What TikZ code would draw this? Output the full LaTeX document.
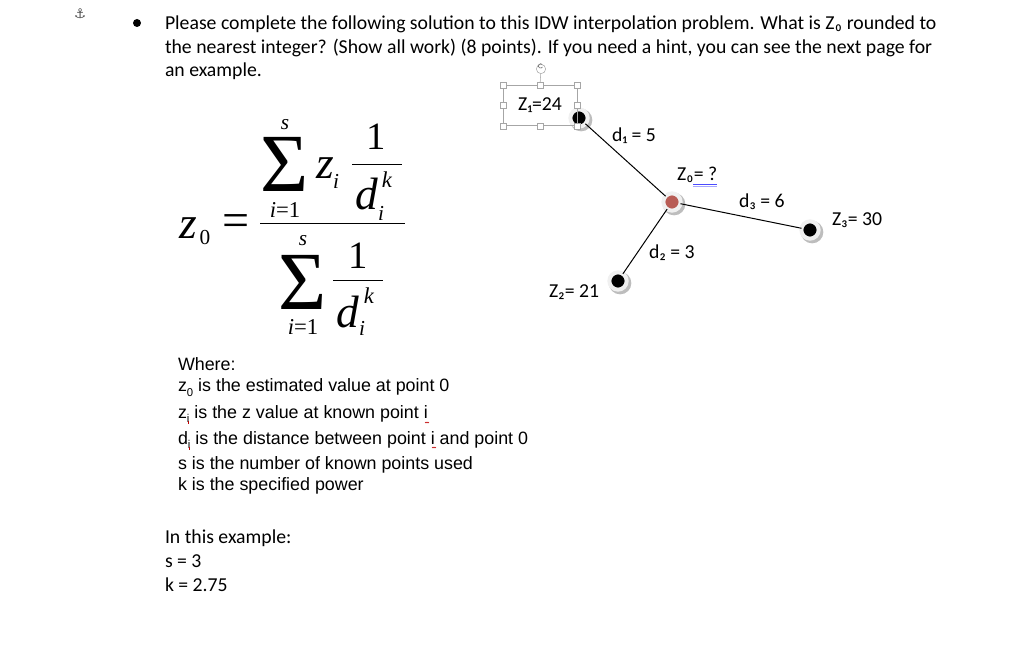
\documentclass[tikz,border=0pt]{standalone}
\usepackage{fontspec}
\setmainfont{Carlito}
\newfontfamily\fmlfont{Liberation Serif}
\newfontfamily\wherefont{Liberation Sans}
\newfontfamily\iconfont{DejaVu Sans}
\usetikzlibrary{shadows}
\definecolor{ringgrey}{HTML}{F0F0F0}
\definecolor{dropgrey}{HTML}{BDBDBD}
\definecolor{dotred}{HTML}{B85C55}
\definecolor{handlegrey}{HTML}{A6A6A6}
\newcommand{\lowsub}[1]{\raisebox{-.45ex}{\fontsize{8.5}{8.5}\selectfont #1}}
\begin{document}
\begin{tikzpicture}
[x=0.75pt,y=-0.75pt,%
  every node/.style={inner sep=0pt,outer sep=0pt},%
  txt/.style={anchor=base west,font=\fontsize{14.8}{14.8}\selectfont},%
  wtxt/.style={anchor=base west,font=\fontsize{13.4}{13.4}\selectfont\wherefont},%
  fml/.style={font=\fontsize{#1}{#1}\selectfont\fmlfont},%
  fmli/.style={font=\fontsize{#1}{#1}\selectfont\fmlfont\itshape},%
  fracbar/.style={black,line width=0.6pt},%
  point/.style={shape=circle,minimum size=13pt,draw=ringgrey,line width=3pt,fill=#1,%
    drop shadow={shadow xshift=1.2pt,shadow yshift=-1.2pt,shadow scale=1.3,fill=dropgrey,opacity=1}},%
  handlebox/.style={shape=rectangle,minimum size=4.5pt,draw=handlegrey,fill=white,line width=0.4pt},%
  squiggle/.style={red!75!black,line width=0.4pt}]
\useasboundingbox (0,0) rectangle (1024,648);
\node[font=\fontsize{10}{10}\selectfont\iconfont,text=black!70] (anchorsign) at (80,14) {⚓};
\node[shape=circle,fill=black,minimum size=6pt] (bullet) at (137,23) {};
\node[txt] (line1) at (165,30) {Please complete the following solution to this IDW interpolation problem. What is Z₀ rounded to};
\node[txt] (line2) at (165,54) {the nearest integer? (Show all work) (8 points). If you need a hint, you can see the next page for};
\node[txt] (line3) at (165,77) {an example.};
% formula
\node[fmli=34] (zzero) at (188,228) {z};
\node[fml=16] (zzerosub) at (205,238) {0};
\node[fml=36] (equal) at (236,226) {=};
\draw[fracbar] (260,223) -- (405,223);
\node[fml=62] (sumtop) at (285,164) {Σ};
\node[fmli=16] (stop) at (285,125) {s};
\node[font=\fontsize{17}{17}\selectfont\fmlfont] (itop) at (285,210) {\textit{i}=1};
\node[fmli=34] (zi) at (325,168) {z};
\node[fmli=16] (zisub) at (336,181) {i};
\node[fml=29] (onetop) at (376,137) {1};
\draw[fracbar] (352,164) -- (402,164);
\node[fmli=34] (dtop) at (367,194) {d};
\node[fmli=17] (kbtop) at (387,180) {k};
\node[fmli=16] (dsubtop) at (381,213) {i};
\node[fml=62] (sumbot) at (303,282) {Σ};
\node[fmli=16] (sbot) at (303,241) {s};
\node[font=\fontsize{17}{17}\selectfont\fmlfont] (ibot) at (303,327) {\textit{i}=1};
\node[fml=29] (onebot) at (358,256) {1};
\draw[fracbar] (333,280) -- (383,280);
\node[fmli=34] (dbot) at (348,312) {d};
\node[fmli=17] (kbot) at (369,296) {k};
\node[fmli=16] (dsubbot) at (362,328) {i};
% where block
\node[wtxt] (where) at (178,371) {Where:};
\node[wtxt] (wzero) at (178,392) {z\lowsub{0} is the estimated value at point 0};
\node[wtxt] (wzi) at (178,418) {z\lowsub{i} is the z value at known point i};
\node[wtxt] (wdi) at (178,444) {d\lowsub{i} is the distance between point i and point 0};
\node[wtxt] (ws) at (178,469) {s is the number of known points used};
\node[wtxt] (wk) at (178,490) {k is the specified power};
\draw[squiggle] (425,422) -- (426,423) -- (427,422) -- (428,423) -- (429,422);
\draw[squiggle] (432,447) -- (433,448) -- (434,447) -- (435,448) -- (436,447);
\draw[squiggle] (188,421) -- (188,424);
\draw[squiggle] (189,447) -- (189,450);
\node[txt] (example) at (165,543) {In this example:};
\node[txt] (exs) at (165,567) {s = 3};
\node[txt] (exk) at (165,591) {k = 2.75};
% points
\node[point=black] (ptone) at (579,118) {};
\node[point=dotred] (ptzero) at (672,202) {};
\node[point=black] (pttwo) at (618,281) {};
\node[point=black] (ptthree) at (810,230) {};
\draw[black,line width=0.75pt] (ptone) -- (ptzero);
\draw[black,line width=0.75pt] (ptzero) -- (pttwo);
\draw[black,line width=0.75pt] (ptzero) -- (ptthree);
\node[txt] (done) at (612,142) {d₁ = 5};
\node[txt] (dthree) at (739,208) {d₃ = 6};
\node[txt] (dtwo) at (649,259) {d₂ = 3};
\node[txt] (zlabel) at (677,181) {Z₀= ?};
\node[txt] (zthree) at (832,226) {Z₃= 30};
\node[txt] (ztwo) at (549,298) {Z₂= 21};
\coordinate (ulineleft) at (693,184);
\coordinate (ulineright) at (717,184);
\draw[blue!70!white,line width=0.7pt] (ulineleft) -- (ulineright);
\draw[blue!35!white,line width=0.7pt] ([yshift=-1.8pt]ulineleft) -- ([yshift=-1.8pt]ulineright);
% selected text box
\node[txt,anchor=center,draw=handlegrey,line width=0.5pt,minimum width=55.5pt,minimum height=30.5pt] (zone) at (540,105.5) {Z₁=24};
\node[shape=circle,draw=handlegrey,line width=0.4pt,minimum size=7pt] (rotate) at (541,69) {};
\draw[handlegrey,line width=0.4pt] (zone.north) -- (rotate);
\draw[black!60,line width=0.4pt] (542.5,67) arc (30:320:2.2);
\foreach \a in {north west,north,north east,west,east,south west,south,south east}
  \node[handlebox] at (zone.\a) {};
\end{tikzpicture}
\end{document}
